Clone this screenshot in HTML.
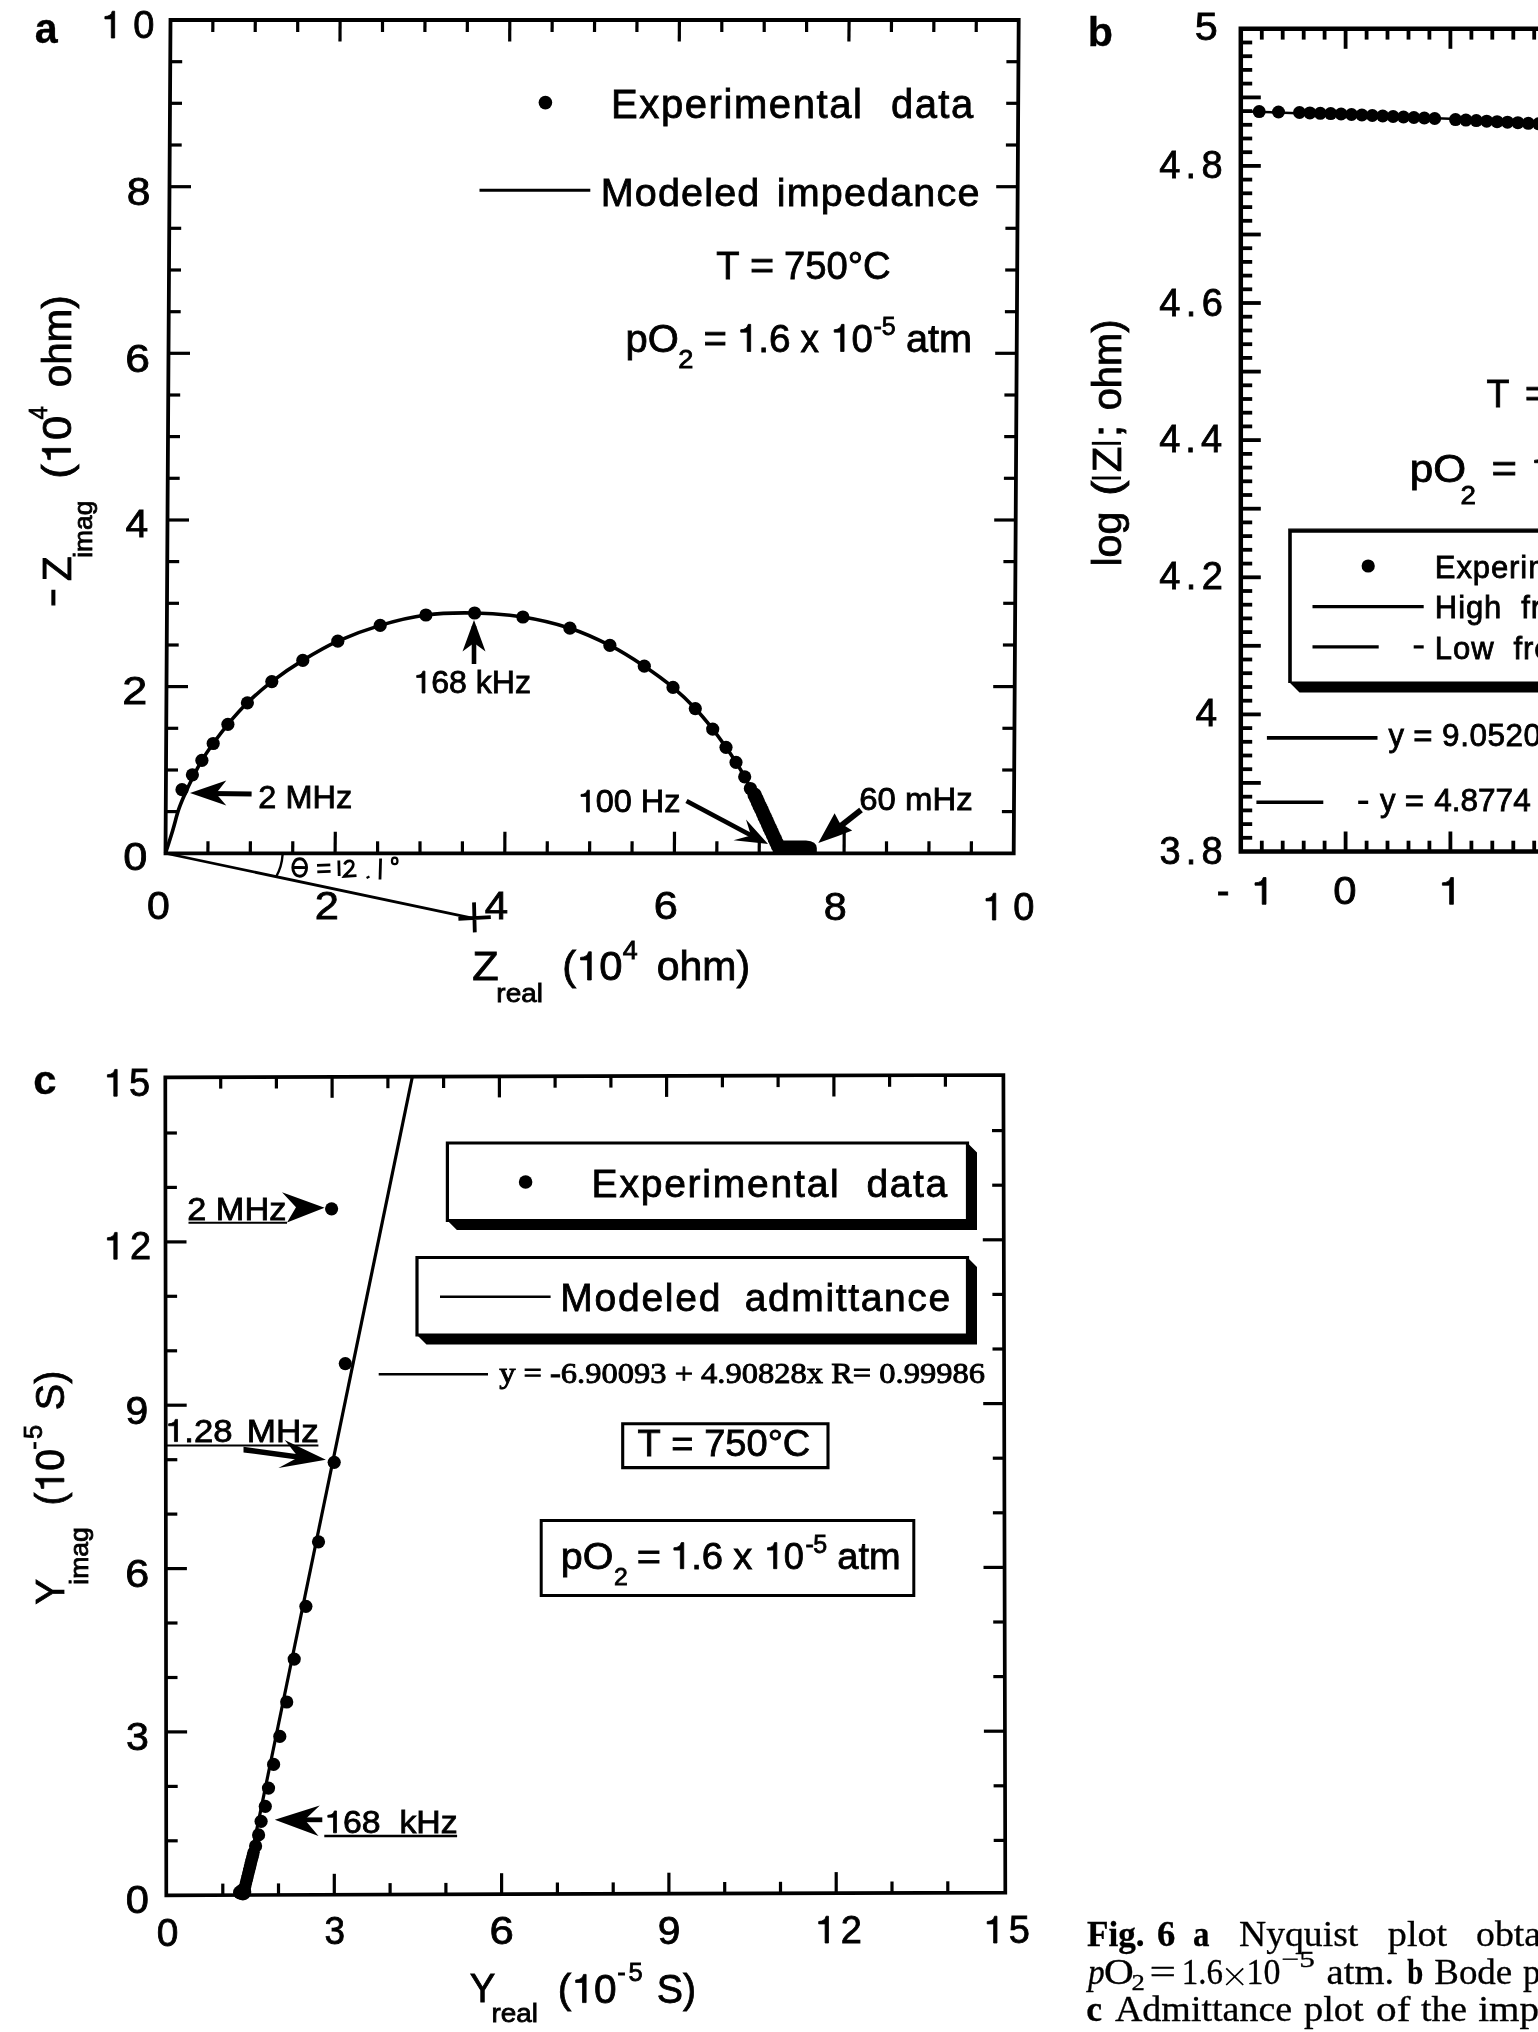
<!DOCTYPE html>
<html><head><meta charset="utf-8"><title>Fig. 6</title>
<style>
html,body{margin:0;padding:0;background:#fff;}
body{width:1538px;height:2032px;overflow:hidden;}
svg{display:block;font-family:"Liberation Sans",sans-serif;will-change:transform;}
svg text{fill:#000;stroke:#000;stroke-width:0.8px;font-kerning:none;white-space:pre;}
svg line,svg path{stroke:#000;fill:none;}
svg circle{fill:#000;stroke:none;}
</style></head><body>
<svg width="1538" height="2032" viewBox="0 0 1538 2032">
<rect x="0" y="0" width="1538" height="2032" fill="#fff" stroke="none"/>
<!-- panel a -->
<path d="M170.5 20.0 L1018.7 20.0 L1013.7 853.3 L165.5 853.3 Z" stroke-width="3.8" stroke-linejoin="miter"/>
<line x1="207.9" y1="853.3" x2="208.0" y2="841.3" stroke-width="3.2"/>
<line x1="212.9" y1="20.0" x2="212.8" y2="32.0" stroke-width="3.2"/>
<line x1="165.7" y1="811.6" x2="177.7" y2="811.6" stroke-width="3.2"/>
<line x1="1013.9" y1="811.6" x2="1001.9" y2="811.6" stroke-width="3.2"/>
<line x1="250.3" y1="853.3" x2="250.4" y2="841.3" stroke-width="3.2"/>
<line x1="255.3" y1="20.0" x2="255.2" y2="32.0" stroke-width="3.2"/>
<line x1="166.0" y1="770.0" x2="178.0" y2="770.0" stroke-width="3.2"/>
<line x1="1014.2" y1="770.0" x2="1002.2" y2="770.0" stroke-width="3.2"/>
<line x1="292.7" y1="853.3" x2="292.8" y2="841.3" stroke-width="3.2"/>
<line x1="297.7" y1="20.0" x2="297.7" y2="32.0" stroke-width="3.2"/>
<line x1="166.2" y1="728.3" x2="178.2" y2="728.3" stroke-width="3.2"/>
<line x1="1014.4" y1="728.3" x2="1002.4" y2="728.3" stroke-width="3.2"/>
<line x1="335.1" y1="853.3" x2="335.3" y2="831.8" stroke-width="3.2"/>
<line x1="340.1" y1="20.0" x2="340.0" y2="41.5" stroke-width="3.2"/>
<line x1="166.5" y1="686.6" x2="188.0" y2="686.6" stroke-width="3.2"/>
<line x1="1014.7" y1="686.6" x2="993.2" y2="686.6" stroke-width="3.2"/>
<line x1="377.6" y1="853.3" x2="377.6" y2="841.3" stroke-width="3.2"/>
<line x1="382.5" y1="20.0" x2="382.5" y2="32.0" stroke-width="3.2"/>
<line x1="166.7" y1="645.0" x2="178.7" y2="645.0" stroke-width="3.2"/>
<line x1="1014.9" y1="645.0" x2="1002.9" y2="645.0" stroke-width="3.2"/>
<line x1="420.0" y1="853.3" x2="420.0" y2="841.3" stroke-width="3.2"/>
<line x1="425.0" y1="20.0" x2="424.9" y2="32.0" stroke-width="3.2"/>
<line x1="167.0" y1="603.3" x2="179.0" y2="603.3" stroke-width="3.2"/>
<line x1="1015.2" y1="603.3" x2="1003.2" y2="603.3" stroke-width="3.2"/>
<line x1="462.4" y1="853.3" x2="462.4" y2="841.3" stroke-width="3.2"/>
<line x1="467.4" y1="20.0" x2="467.3" y2="32.0" stroke-width="3.2"/>
<line x1="167.2" y1="561.6" x2="179.2" y2="561.6" stroke-width="3.2"/>
<line x1="1015.4" y1="561.6" x2="1003.4" y2="561.6" stroke-width="3.2"/>
<line x1="504.8" y1="853.3" x2="504.9" y2="831.8" stroke-width="3.2"/>
<line x1="509.8" y1="20.0" x2="509.7" y2="41.5" stroke-width="3.2"/>
<line x1="167.5" y1="520.0" x2="189.0" y2="520.0" stroke-width="3.2"/>
<line x1="1015.7" y1="520.0" x2="994.2" y2="520.0" stroke-width="3.2"/>
<line x1="547.2" y1="853.3" x2="547.3" y2="841.3" stroke-width="3.2"/>
<line x1="552.2" y1="20.0" x2="552.1" y2="32.0" stroke-width="3.2"/>
<line x1="167.7" y1="478.3" x2="179.7" y2="478.3" stroke-width="3.2"/>
<line x1="1015.9" y1="478.3" x2="1003.9" y2="478.3" stroke-width="3.2"/>
<line x1="589.6" y1="853.3" x2="589.7" y2="841.3" stroke-width="3.2"/>
<line x1="594.6" y1="20.0" x2="594.5" y2="32.0" stroke-width="3.2"/>
<line x1="168.0" y1="436.6" x2="180.0" y2="436.6" stroke-width="3.2"/>
<line x1="1016.2" y1="436.6" x2="1004.2" y2="436.6" stroke-width="3.2"/>
<line x1="632.0" y1="853.3" x2="632.1" y2="841.3" stroke-width="3.2"/>
<line x1="637.0" y1="20.0" x2="636.9" y2="32.0" stroke-width="3.2"/>
<line x1="168.2" y1="395.0" x2="180.2" y2="395.0" stroke-width="3.2"/>
<line x1="1016.4" y1="395.0" x2="1004.4" y2="395.0" stroke-width="3.2"/>
<line x1="674.4" y1="853.3" x2="674.5" y2="831.8" stroke-width="3.2"/>
<line x1="679.4" y1="20.0" x2="679.3" y2="41.5" stroke-width="3.2"/>
<line x1="168.5" y1="353.3" x2="190.0" y2="353.3" stroke-width="3.2"/>
<line x1="1016.7" y1="353.3" x2="995.2" y2="353.3" stroke-width="3.2"/>
<line x1="716.8" y1="853.3" x2="716.9" y2="841.3" stroke-width="3.2"/>
<line x1="721.8" y1="20.0" x2="721.8" y2="32.0" stroke-width="3.2"/>
<line x1="168.7" y1="311.7" x2="180.7" y2="311.7" stroke-width="3.2"/>
<line x1="1016.9" y1="311.7" x2="1004.9" y2="311.7" stroke-width="3.2"/>
<line x1="759.2" y1="853.3" x2="759.3" y2="841.3" stroke-width="3.2"/>
<line x1="764.2" y1="20.0" x2="764.2" y2="32.0" stroke-width="3.2"/>
<line x1="169.0" y1="270.0" x2="181.0" y2="270.0" stroke-width="3.2"/>
<line x1="1017.2" y1="270.0" x2="1005.2" y2="270.0" stroke-width="3.2"/>
<line x1="801.6" y1="853.3" x2="801.7" y2="841.3" stroke-width="3.2"/>
<line x1="806.6" y1="20.0" x2="806.6" y2="32.0" stroke-width="3.2"/>
<line x1="169.2" y1="228.3" x2="181.2" y2="228.3" stroke-width="3.2"/>
<line x1="1017.4" y1="228.3" x2="1005.4" y2="228.3" stroke-width="3.2"/>
<line x1="844.1" y1="853.3" x2="844.2" y2="831.8" stroke-width="3.2"/>
<line x1="849.1" y1="20.0" x2="848.9" y2="41.5" stroke-width="3.2"/>
<line x1="169.5" y1="186.7" x2="191.0" y2="186.7" stroke-width="3.2"/>
<line x1="1017.7" y1="186.7" x2="996.2" y2="186.7" stroke-width="3.2"/>
<line x1="886.5" y1="853.3" x2="886.5" y2="841.3" stroke-width="3.2"/>
<line x1="891.5" y1="20.0" x2="891.4" y2="32.0" stroke-width="3.2"/>
<line x1="169.7" y1="145.0" x2="181.7" y2="145.0" stroke-width="3.2"/>
<line x1="1017.9" y1="145.0" x2="1005.9" y2="145.0" stroke-width="3.2"/>
<line x1="928.9" y1="853.3" x2="929.0" y2="841.3" stroke-width="3.2"/>
<line x1="933.9" y1="20.0" x2="933.8" y2="32.0" stroke-width="3.2"/>
<line x1="170.0" y1="103.3" x2="182.0" y2="103.3" stroke-width="3.2"/>
<line x1="1018.2" y1="103.3" x2="1006.2" y2="103.3" stroke-width="3.2"/>
<line x1="971.3" y1="853.3" x2="971.4" y2="841.3" stroke-width="3.2"/>
<line x1="976.3" y1="20.0" x2="976.2" y2="32.0" stroke-width="3.2"/>
<line x1="170.2" y1="61.7" x2="182.2" y2="61.7" stroke-width="3.2"/>
<line x1="1018.4" y1="61.7" x2="1006.4" y2="61.7" stroke-width="3.2"/>
<path d="M114.67 38.00 L111.31 38.00 L111.31 18.92 L104.90 18.92 L104.90 16.54 Q108.26 16.39 109.94 15.10 Q111.61 13.82 112.26 11.21 L114.67 11.21 Z" style="fill:#000;stroke:#000;stroke-width:0.8"/>
<text x="133.15" y="38.0" font-size="38" letter-spacing="11.11" xml:space="preserve">0</text>
<text x="126.75" y="205.0" font-size="38" textLength="23.70" lengthAdjust="spacingAndGlyphs" xml:space="preserve">8</text>
<text x="125.24" y="371.6" font-size="38" textLength="24.71" lengthAdjust="spacingAndGlyphs" xml:space="preserve">6</text>
<text x="125.56" y="537.0" font-size="38" textLength="22.74" lengthAdjust="spacingAndGlyphs" xml:space="preserve">4</text>
<text x="122.24" y="704.0" font-size="38" textLength="25.03" lengthAdjust="spacingAndGlyphs" xml:space="preserve">2</text>
<text x="123.31" y="869.6" font-size="38" textLength="24.08" lengthAdjust="spacingAndGlyphs" xml:space="preserve">0</text>
<text x="147.00" y="918.8" font-size="38" textLength="22.80" lengthAdjust="spacingAndGlyphs" xml:space="preserve">0</text>
<text x="314.81" y="918.8" font-size="38" textLength="24.17" lengthAdjust="spacingAndGlyphs" xml:space="preserve">2</text>
<text x="484.83" y="918.8" font-size="38" textLength="23.40" lengthAdjust="spacingAndGlyphs" xml:space="preserve">4</text>
<text x="653.80" y="919.0" font-size="38" textLength="24.11" lengthAdjust="spacingAndGlyphs" xml:space="preserve">6</text>
<text x="823.80" y="919.5" font-size="38" textLength="22.99" lengthAdjust="spacingAndGlyphs" xml:space="preserve">8</text>
<path d="M995.77 920.00 L992.41 920.00 L992.41 900.92 L986.00 900.92 L986.00 898.54 Q989.36 898.39 991.04 897.10 Q992.71 895.82 993.36 893.21 L995.77 893.21 Z" style="fill:#000;stroke:#000;stroke-width:0.8"/>
<text x="1013.35" y="920.0" font-size="38" letter-spacing="10.21" xml:space="preserve">0</text>
<text x="34.79" y="42.5" font-size="42" font-weight="bold" style="stroke-width:0.3px" textLength="22.95" lengthAdjust="spacingAndGlyphs" xml:space="preserve">a</text>
<circle cx="545.4" cy="102.6" r="6.8"/>
<text x="611.02" y="117.7" font-size="40" letter-spacing="1.59" xml:space="preserve">Experimental</text>
<text x="890.92" y="117.7" font-size="40" letter-spacing="1.48" xml:space="preserve">data</text>
<line x1="479.5" y1="190.3" x2="590.3" y2="190.3" stroke-width="3"/>
<text x="600.66" y="206.2" font-size="39.5" letter-spacing="1.19" xml:space="preserve">Modeled</text>
<text x="776.86" y="206.2" font-size="39.5" letter-spacing="1.16" xml:space="preserve">impedance</text>
<text x="716.14" y="278.6" font-size="38.5" textLength="23.33" lengthAdjust="spacingAndGlyphs" xml:space="preserve">T</text>
<text x="750.08" y="278.6" font-size="38.5" textLength="24.16" lengthAdjust="spacingAndGlyphs" xml:space="preserve">=</text>
<text x="784.04" y="278.6" font-size="38.5" textLength="106.61" lengthAdjust="spacingAndGlyphs" xml:space="preserve">750°C</text>
<text x="625.63" y="351.5" font-size="38.5" textLength="53.29" lengthAdjust="spacingAndGlyphs" xml:space="preserve">pO</text>
<text x="678.23" y="368.3" font-size="25.5" textLength="15.14" lengthAdjust="spacingAndGlyphs" xml:space="preserve">2</text>
<text x="703.64" y="351.5" font-size="38.5" textLength="23.44" lengthAdjust="spacingAndGlyphs" xml:space="preserve">=</text>
<path d="M750.66 351.50 L747.24 351.50 L747.24 332.17 L740.70 332.17 L740.70 329.76 Q744.12 329.60 745.84 328.30 Q747.55 327.00 748.21 324.36 L750.66 324.36 Z" style="fill:#000;stroke:#000;stroke-width:0.8"/>
<text x="758.18" y="351.5" font-size="38.5" textLength="32.32" lengthAdjust="spacingAndGlyphs" xml:space="preserve">.6</text>
<text x="800.59" y="351.5" font-size="38.5" textLength="18.41" lengthAdjust="spacingAndGlyphs" xml:space="preserve">x</text>
<path d="M844.05 351.50 L840.66 351.50 L840.66 332.17 L834.20 332.17 L834.20 329.76 Q837.59 329.60 839.28 328.30 Q840.97 327.00 841.62 324.36 L844.05 324.36 Z" style="fill:#000;stroke:#000;stroke-width:0.8"/>
<text x="851.49" y="351.5" font-size="38.5" textLength="21.31" lengthAdjust="spacingAndGlyphs" xml:space="preserve">0</text>
<text x="873.39" y="335.4" font-size="25" letter-spacing="0.13" xml:space="preserve">-5</text>
<text x="906.02" y="351.5" font-size="38.5" textLength="66.10" lengthAdjust="spacingAndGlyphs" xml:space="preserve">atm</text>
<text x="472.33" y="980.0" font-size="40" textLength="26.42" lengthAdjust="spacingAndGlyphs" xml:space="preserve">Z</text>
<text x="496.35" y="1001.8" font-size="25.5" textLength="46.52" lengthAdjust="spacingAndGlyphs" xml:space="preserve">real</text>
<text x="562.21" y="980.0" font-size="40" textLength="13.92" lengthAdjust="spacingAndGlyphs" xml:space="preserve">(</text>
<path d="M591.26 980.00 L587.57 980.00 L587.57 959.91 L580.52 959.91 L580.52 957.41 Q584.21 957.25 586.06 955.90 Q587.91 954.54 588.62 951.80 L591.26 951.80 Z" style="fill:#000;stroke:#000;stroke-width:0.8"/>
<text x="599.38" y="980.0" font-size="40" textLength="23.25" lengthAdjust="spacingAndGlyphs" xml:space="preserve">0</text>
<text x="622.89" y="958.6" font-size="25.5" textLength="14.90" lengthAdjust="spacingAndGlyphs" xml:space="preserve">4</text>
<text x="656.78" y="980.0" font-size="40" textLength="93.36" lengthAdjust="spacingAndGlyphs" xml:space="preserve">ohm)</text>
<g transform="translate(64.0 605.0) rotate(-90)">
<text x="-2.64" y="0.0" font-size="40" textLength="19.78" lengthAdjust="spacingAndGlyphs" xml:space="preserve">-</text>
</g>
<g transform="translate(70.5 580.0) rotate(-90)">
<text x="-1.30" y="0.0" font-size="40" textLength="24.98" lengthAdjust="spacingAndGlyphs" xml:space="preserve">Z</text>
</g>
<g transform="translate(92.0 556.0) rotate(-90)">
<text x="-1.76" y="0.0" font-size="25.5" textLength="57.06" lengthAdjust="spacingAndGlyphs" xml:space="preserve">imag</text>
</g>
<g transform="translate(70.5 476.0) rotate(-90)">
<text x="-2.70" y="0.0" font-size="40" textLength="14.52" lengthAdjust="spacingAndGlyphs" xml:space="preserve">(</text>
<path d="M27.59 0.00 L23.74 0.00 L23.74 -20.09 L16.39 -20.09 L16.39 -22.59 Q20.24 -22.75 22.17 -24.10 Q24.09 -25.46 24.84 -28.20 L27.59 -28.20 Z" style="fill:#000;stroke:#000;stroke-width:0.8"/>
<text x="36.06" y="0.0" font-size="40" textLength="24.24" lengthAdjust="spacingAndGlyphs" xml:space="preserve">0</text>
</g>
<g transform="translate(46.5 419.0) rotate(-90)">
<text x="-0.55" y="0.0" font-size="25.5" textLength="13.24" lengthAdjust="spacingAndGlyphs" xml:space="preserve">4</text>
</g>
<g transform="translate(70.5 385.6) rotate(-90)">
<text x="-1.70" y="0.0" font-size="40" textLength="92.00" lengthAdjust="spacingAndGlyphs" xml:space="preserve">ohm)</text>
</g>
<path d="M165.5 853.3 C166.7 849.5 170.5 837.7 172.7 830.4 C174.9 823.1 176.5 815.9 178.6 809.7 C180.7 803.5 182.9 798.7 185.3 793.2 C187.7 787.8 190.2 782.5 193.0 777.0 C195.8 771.5 198.5 765.9 201.9 760.3 C205.3 754.7 208.9 749.5 213.2 743.5 C217.5 737.5 222.2 731.1 227.9 724.3 C233.6 717.5 240.1 709.9 247.4 702.8 C254.7 695.7 262.6 688.7 271.8 681.6 C281.0 674.5 291.8 667.1 302.8 660.4 C313.8 653.7 324.9 647.0 337.8 641.2 C350.7 635.4 365.5 629.8 380.2 625.4 C394.9 621.0 410.2 617.1 425.9 615.0 C441.6 612.9 458.4 612.7 474.6 613.0 C490.8 613.3 507.0 614.5 522.9 617.0 C538.8 619.5 555.4 623.5 569.9 628.2 C584.4 632.9 597.5 639.1 609.9 645.4 C622.3 651.7 633.8 659.2 644.3 666.2 C654.8 673.2 664.5 680.3 673.0 687.4 C681.5 694.5 688.7 701.6 695.3 708.6 C701.9 715.6 707.6 722.7 712.7 729.1 C717.8 735.5 722.1 741.8 726.0 747.3 C729.9 752.8 732.9 757.4 736.0 762.3 C739.1 767.2 742.3 772.4 744.7 776.8 C747.1 781.2 748.5 784.6 750.4 788.5 C752.3 792.4 753.4 794.4 756.0 800.0 C758.6 805.6 762.5 814.3 766.0 822.0 C769.5 829.7 775.2 842.0 777.0 846.0" stroke-width="3.6"/>
<circle cx="182.0" cy="789.7" r="6.6"/>
<circle cx="192.4" cy="774.8" r="6.6"/>
<circle cx="201.9" cy="760.3" r="6.6"/>
<circle cx="213.2" cy="743.5" r="6.6"/>
<circle cx="227.9" cy="724.3" r="6.6"/>
<circle cx="247.4" cy="702.8" r="6.6"/>
<circle cx="271.8" cy="681.6" r="6.6"/>
<circle cx="302.8" cy="660.4" r="6.6"/>
<circle cx="337.8" cy="641.2" r="6.6"/>
<circle cx="380.2" cy="625.4" r="6.6"/>
<circle cx="425.9" cy="615.0" r="6.6"/>
<circle cx="474.6" cy="613.0" r="6.6"/>
<circle cx="522.9" cy="617.0" r="6.6"/>
<circle cx="569.9" cy="628.2" r="6.6"/>
<circle cx="609.9" cy="645.4" r="6.6"/>
<circle cx="644.3" cy="666.2" r="6.6"/>
<circle cx="673.0" cy="687.4" r="6.6"/>
<circle cx="695.3" cy="708.6" r="6.6"/>
<circle cx="712.7" cy="729.1" r="6.6"/>
<circle cx="726.0" cy="747.3" r="6.6"/>
<circle cx="736.0" cy="762.3" r="6.6"/>
<circle cx="744.7" cy="776.8" r="6.6"/>
<circle cx="750.4" cy="788.5" r="6.6"/>
<circle cx="754.6" cy="794.8" r="7.2"/>
<circle cx="756.3" cy="798.5" r="7.2"/>
<circle cx="757.9" cy="802.1" r="7.2"/>
<circle cx="759.6" cy="805.8" r="7.2"/>
<circle cx="761.3" cy="809.4" r="7.2"/>
<circle cx="763.0" cy="813.1" r="7.2"/>
<circle cx="764.6" cy="816.7" r="7.2"/>
<circle cx="766.3" cy="820.4" r="7.2"/>
<circle cx="768.0" cy="824.1" r="7.2"/>
<circle cx="769.6" cy="827.7" r="7.2"/>
<circle cx="771.3" cy="831.4" r="7.2"/>
<circle cx="773.0" cy="835.0" r="7.2"/>
<circle cx="774.7" cy="838.7" r="7.2"/>
<circle cx="776.3" cy="842.3" r="7.2"/>
<circle cx="778.0" cy="846.0" r="7.2"/>
<path d="M778 840.6 L806 840.6 Q816.8 841.5 816.8 848 L816.8 853.3 L772 853.3 Z" style="fill:#000;stroke:none"/>
<path d="M424.95 693.00 L422.11 693.00 L422.11 677.43 L416.70 677.43 L416.70 675.49 Q419.54 675.37 420.95 674.32 Q422.37 673.27 422.92 671.14 L424.95 671.14 Z" style="fill:#000;stroke:#000;stroke-width:0.8"/>
<text x="431.18" y="693.0" font-size="31" textLength="99.92" lengthAdjust="spacingAndGlyphs" xml:space="preserve">68 kHz</text>
<path d="M474 664 L474 626" stroke-width="4.6"/>
<path d="M474 620 L485.5 651.5 L474 643 L462.5 651.5 Z" style="fill:#000;stroke:none"/>
<text x="258.37" y="807.7" font-size="30.5" textLength="93.75" lengthAdjust="spacingAndGlyphs" xml:space="preserve">2 MHz</text>
<path d="M251.6 794 L212 793.4" stroke-width="5"/>
<path d="M190 792.9 L226.3 780.6 L216 793.4 L226.3 805.6 Z" style="fill:#000;stroke:none"/>
<path d="M589.36 812.00 L586.48 812.00 L586.48 796.43 L581.00 796.43 L581.00 794.49 Q583.87 794.37 585.31 793.32 Q586.75 792.27 587.30 790.14 L589.36 790.14 Z" style="fill:#000;stroke:#000;stroke-width:0.8"/>
<text x="595.67" y="812.0" font-size="31" textLength="84.95" lengthAdjust="spacingAndGlyphs" xml:space="preserve">00 Hz</text>
<path d="M686.5 801 L757 838.5" stroke-width="4.8"/>
<path d="M768 844 L733.5 840.3 L751 835.5 L746 819.5 Z" style="fill:#000;stroke:none"/>
<text x="859.33" y="809.5" font-size="31" textLength="113.31" lengthAdjust="spacingAndGlyphs" xml:space="preserve">60 mHz</text>
<path d="M861 810 L840 826.5" stroke-width="6"/>
<path d="M818.3 843 L834.6 813.2 L839.5 822.5 L852.2 830.6 L838 836 Z" style="fill:#000;stroke:none"/>
<path d="M165.5 853.3 L474.6 918.6" stroke-width="2.7"/>
<path d="M458.4 918.9 L490.8 917.2 M474 902.4 L474.8 932.4" stroke-width="3.8"/>
<path d="M282.6 854.5 Q281.8 867 276 877" stroke-width="2.4"/>
<path d="M299.8 858.8 C290.5 858.8 290.5 876.2 299.8 876.2 C309 876.2 308.6 858.8 299.8 858.8 Z M292 867.2 L307.8 867.6" stroke-width="2.9"/>
<path d="M317 865.3 L330.3 864.8 M317.3 871.9 L330.6 871.3" stroke-width="2.7"/>
<path d="M338.8 860.5 L339.2 876" stroke-width="2.8"/>
<path d="M344.5 864.5 C346.5 859 355 860 353 866 C351.8 870 347 872.5 344.2 876.4 L356.5 875.6" stroke-width="2.7"/>
<path d="M367.5 876.2 L368.5 878.2" stroke-width="3.2"/>
<path d="M380.6 858.5 L380 879.5" stroke-width="2.8"/>
<path d="M394.7 857.6 C391 857.6 391 864.2 394.7 864.2 C398.4 864.2 398.4 857.6 394.7 857.6 Z" stroke-width="2.2"/>
<!-- panel b -->
<path d="M1560 28.8 L1240.8 28.8 L1240.8 851.5 L1560 851.5" stroke-width="4.5" stroke-linejoin="miter"/>
<line x1="1261.8" y1="28.8" x2="1261.8" y2="39.6" stroke-width="3.8"/>
<line x1="1261.8" y1="851.5" x2="1261.8" y2="840.7" stroke-width="3.8"/>
<line x1="1282.7" y1="28.8" x2="1282.7" y2="39.6" stroke-width="3.8"/>
<line x1="1282.7" y1="851.5" x2="1282.7" y2="840.7" stroke-width="3.8"/>
<line x1="1303.7" y1="28.8" x2="1303.7" y2="39.6" stroke-width="3.8"/>
<line x1="1303.7" y1="851.5" x2="1303.7" y2="840.7" stroke-width="3.8"/>
<line x1="1324.6" y1="28.8" x2="1324.6" y2="39.6" stroke-width="3.8"/>
<line x1="1324.6" y1="851.5" x2="1324.6" y2="840.7" stroke-width="3.8"/>
<line x1="1345.6" y1="28.8" x2="1345.6" y2="48.8" stroke-width="3.8"/>
<line x1="1345.6" y1="851.5" x2="1345.6" y2="831.5" stroke-width="3.8"/>
<line x1="1366.6" y1="28.8" x2="1366.6" y2="39.6" stroke-width="3.8"/>
<line x1="1366.6" y1="851.5" x2="1366.6" y2="840.7" stroke-width="3.8"/>
<line x1="1387.5" y1="28.8" x2="1387.5" y2="39.6" stroke-width="3.8"/>
<line x1="1387.5" y1="851.5" x2="1387.5" y2="840.7" stroke-width="3.8"/>
<line x1="1408.5" y1="28.8" x2="1408.5" y2="39.6" stroke-width="3.8"/>
<line x1="1408.5" y1="851.5" x2="1408.5" y2="840.7" stroke-width="3.8"/>
<line x1="1429.4" y1="28.8" x2="1429.4" y2="39.6" stroke-width="3.8"/>
<line x1="1429.4" y1="851.5" x2="1429.4" y2="840.7" stroke-width="3.8"/>
<line x1="1450.4" y1="28.8" x2="1450.4" y2="48.8" stroke-width="3.8"/>
<line x1="1450.4" y1="851.5" x2="1450.4" y2="831.5" stroke-width="3.8"/>
<line x1="1471.4" y1="28.8" x2="1471.4" y2="39.6" stroke-width="3.8"/>
<line x1="1471.4" y1="851.5" x2="1471.4" y2="840.7" stroke-width="3.8"/>
<line x1="1492.3" y1="28.8" x2="1492.3" y2="39.6" stroke-width="3.8"/>
<line x1="1492.3" y1="851.5" x2="1492.3" y2="840.7" stroke-width="3.8"/>
<line x1="1513.3" y1="28.8" x2="1513.3" y2="39.6" stroke-width="3.8"/>
<line x1="1513.3" y1="851.5" x2="1513.3" y2="840.7" stroke-width="3.8"/>
<line x1="1534.2" y1="28.8" x2="1534.2" y2="39.6" stroke-width="3.8"/>
<line x1="1534.2" y1="851.5" x2="1534.2" y2="840.7" stroke-width="3.8"/>
<line x1="1555.2" y1="28.8" x2="1555.2" y2="48.8" stroke-width="3.8"/>
<line x1="1555.2" y1="851.5" x2="1555.2" y2="831.5" stroke-width="3.8"/>
<line x1="1240.8" y1="42.5" x2="1252.2" y2="42.5" stroke-width="3.8"/>
<line x1="1240.8" y1="56.2" x2="1252.2" y2="56.2" stroke-width="3.8"/>
<line x1="1240.8" y1="69.9" x2="1252.2" y2="69.9" stroke-width="3.8"/>
<line x1="1240.8" y1="83.6" x2="1252.2" y2="83.6" stroke-width="3.8"/>
<line x1="1240.8" y1="97.4" x2="1260.8" y2="97.4" stroke-width="3.8"/>
<line x1="1240.8" y1="111.1" x2="1252.2" y2="111.1" stroke-width="3.8"/>
<line x1="1240.8" y1="124.8" x2="1252.2" y2="124.8" stroke-width="3.8"/>
<line x1="1240.8" y1="138.5" x2="1252.2" y2="138.5" stroke-width="3.8"/>
<line x1="1240.8" y1="152.2" x2="1252.2" y2="152.2" stroke-width="3.8"/>
<line x1="1240.8" y1="165.9" x2="1260.8" y2="165.9" stroke-width="3.8"/>
<line x1="1240.8" y1="179.6" x2="1252.2" y2="179.6" stroke-width="3.8"/>
<line x1="1240.8" y1="193.3" x2="1252.2" y2="193.3" stroke-width="3.8"/>
<line x1="1240.8" y1="207.1" x2="1252.2" y2="207.1" stroke-width="3.8"/>
<line x1="1240.8" y1="220.8" x2="1252.2" y2="220.8" stroke-width="3.8"/>
<line x1="1240.8" y1="234.5" x2="1260.8" y2="234.5" stroke-width="3.8"/>
<line x1="1240.8" y1="248.2" x2="1252.2" y2="248.2" stroke-width="3.8"/>
<line x1="1240.8" y1="261.9" x2="1252.2" y2="261.9" stroke-width="3.8"/>
<line x1="1240.8" y1="275.6" x2="1252.2" y2="275.6" stroke-width="3.8"/>
<line x1="1240.8" y1="289.3" x2="1252.2" y2="289.3" stroke-width="3.8"/>
<line x1="1240.8" y1="303.0" x2="1260.8" y2="303.0" stroke-width="3.8"/>
<line x1="1240.8" y1="316.7" x2="1252.2" y2="316.7" stroke-width="3.8"/>
<line x1="1240.8" y1="330.5" x2="1252.2" y2="330.5" stroke-width="3.8"/>
<line x1="1240.8" y1="344.2" x2="1252.2" y2="344.2" stroke-width="3.8"/>
<line x1="1240.8" y1="357.9" x2="1252.2" y2="357.9" stroke-width="3.8"/>
<line x1="1240.8" y1="371.6" x2="1260.8" y2="371.6" stroke-width="3.8"/>
<line x1="1240.8" y1="385.3" x2="1252.2" y2="385.3" stroke-width="3.8"/>
<line x1="1240.8" y1="399.0" x2="1252.2" y2="399.0" stroke-width="3.8"/>
<line x1="1240.8" y1="412.7" x2="1252.2" y2="412.7" stroke-width="3.8"/>
<line x1="1240.8" y1="426.4" x2="1252.2" y2="426.4" stroke-width="3.8"/>
<line x1="1240.8" y1="440.1" x2="1260.8" y2="440.1" stroke-width="3.8"/>
<line x1="1240.8" y1="453.9" x2="1252.2" y2="453.9" stroke-width="3.8"/>
<line x1="1240.8" y1="467.6" x2="1252.2" y2="467.6" stroke-width="3.8"/>
<line x1="1240.8" y1="481.3" x2="1252.2" y2="481.3" stroke-width="3.8"/>
<line x1="1240.8" y1="495.0" x2="1252.2" y2="495.0" stroke-width="3.8"/>
<line x1="1240.8" y1="508.7" x2="1260.8" y2="508.7" stroke-width="3.8"/>
<line x1="1240.8" y1="522.4" x2="1252.2" y2="522.4" stroke-width="3.8"/>
<line x1="1240.8" y1="536.1" x2="1252.2" y2="536.1" stroke-width="3.8"/>
<line x1="1240.8" y1="549.8" x2="1252.2" y2="549.8" stroke-width="3.8"/>
<line x1="1240.8" y1="563.6" x2="1252.2" y2="563.6" stroke-width="3.8"/>
<line x1="1240.8" y1="577.3" x2="1260.8" y2="577.3" stroke-width="3.8"/>
<line x1="1240.8" y1="591.0" x2="1252.2" y2="591.0" stroke-width="3.8"/>
<line x1="1240.8" y1="604.7" x2="1252.2" y2="604.7" stroke-width="3.8"/>
<line x1="1240.8" y1="618.4" x2="1252.2" y2="618.4" stroke-width="3.8"/>
<line x1="1240.8" y1="632.1" x2="1252.2" y2="632.1" stroke-width="3.8"/>
<line x1="1240.8" y1="645.8" x2="1260.8" y2="645.8" stroke-width="3.8"/>
<line x1="1240.8" y1="659.5" x2="1252.2" y2="659.5" stroke-width="3.8"/>
<line x1="1240.8" y1="673.2" x2="1252.2" y2="673.2" stroke-width="3.8"/>
<line x1="1240.8" y1="687.0" x2="1252.2" y2="687.0" stroke-width="3.8"/>
<line x1="1240.8" y1="700.7" x2="1252.2" y2="700.7" stroke-width="3.8"/>
<line x1="1240.8" y1="714.4" x2="1260.8" y2="714.4" stroke-width="3.8"/>
<line x1="1240.8" y1="728.1" x2="1252.2" y2="728.1" stroke-width="3.8"/>
<line x1="1240.8" y1="741.8" x2="1252.2" y2="741.8" stroke-width="3.8"/>
<line x1="1240.8" y1="755.5" x2="1252.2" y2="755.5" stroke-width="3.8"/>
<line x1="1240.8" y1="769.2" x2="1252.2" y2="769.2" stroke-width="3.8"/>
<line x1="1240.8" y1="782.9" x2="1260.8" y2="782.9" stroke-width="3.8"/>
<line x1="1240.8" y1="796.7" x2="1252.2" y2="796.7" stroke-width="3.8"/>
<line x1="1240.8" y1="810.4" x2="1252.2" y2="810.4" stroke-width="3.8"/>
<line x1="1240.8" y1="824.1" x2="1252.2" y2="824.1" stroke-width="3.8"/>
<line x1="1240.8" y1="837.8" x2="1252.2" y2="837.8" stroke-width="3.8"/>
<text x="1194.74" y="40.0" font-size="38" textLength="22.99" lengthAdjust="spacingAndGlyphs" xml:space="preserve">5</text>
<text x="1159.13" y="177.8" font-size="38" letter-spacing="5.35" xml:space="preserve">4.8</text>
<text x="1159.13" y="315.5" font-size="38" letter-spacing="5.51" xml:space="preserve">4.6</text>
<text x="1159.13" y="452.4" font-size="38" letter-spacing="5.08" xml:space="preserve">4.4</text>
<text x="1159.13" y="588.6" font-size="38" letter-spacing="5.48" xml:space="preserve">4.2</text>
<text x="1195.51" y="726.0" font-size="38" textLength="21.63" lengthAdjust="spacingAndGlyphs" xml:space="preserve">4</text>
<text x="1159.55" y="863.6" font-size="38" letter-spacing="5.14" xml:space="preserve">3.8</text>
<text x="1216.71" y="904.3" font-size="38" textLength="12.69" lengthAdjust="spacingAndGlyphs" xml:space="preserve">-</text>
<path d="M1266.00 904.30 L1262.22 904.30 L1262.22 885.22 L1255.00 885.22 L1255.00 882.84 Q1258.78 882.69 1260.67 881.40 Q1262.56 880.12 1263.29 877.51 L1266.00 877.51 Z" style="fill:#000;stroke:#000;stroke-width:0.8"/>
<text x="1333.37" y="904.3" font-size="38" textLength="23.27" lengthAdjust="spacingAndGlyphs" xml:space="preserve">0</text>
<path d="M1453.40 904.30 L1449.62 904.30 L1449.62 885.22 L1442.40 885.22 L1442.40 882.84 Q1446.18 882.69 1448.07 881.40 Q1449.96 880.12 1450.69 877.51 L1453.40 877.51 Z" style="fill:#000;stroke:#000;stroke-width:0.8"/>
<text x="1087.78" y="46.4" font-size="41" font-weight="bold" style="stroke-width:0.3px" textLength="25.21" lengthAdjust="spacingAndGlyphs" xml:space="preserve">b</text>
<line x1="1240.8" y1="111.2" x2="1560.0" y2="122.7" stroke-width="2.6"/>
<circle cx="1259.2" cy="111.6" r="6.5"/>
<circle cx="1278.5" cy="112.0" r="6.5"/>
<circle cx="1299.5" cy="112.5" r="6.5"/>
<circle cx="1309.9" cy="112.9" r="6.5"/>
<circle cx="1320.3" cy="113.3" r="6.5"/>
<circle cx="1330.7" cy="113.6" r="6.5"/>
<circle cx="1341.1" cy="114.0" r="6.5"/>
<circle cx="1351.5" cy="114.5" r="6.5"/>
<circle cx="1361.9" cy="115.0" r="6.5"/>
<circle cx="1372.3" cy="115.5" r="6.5"/>
<circle cx="1382.7" cy="116.0" r="6.5"/>
<circle cx="1393.1" cy="116.5" r="6.5"/>
<circle cx="1403.5" cy="117.0" r="6.5"/>
<circle cx="1413.9" cy="117.5" r="6.5"/>
<circle cx="1424.3" cy="118.0" r="6.5"/>
<circle cx="1434.7" cy="118.5" r="6.5"/>
<circle cx="1455.5" cy="119.6" r="6.5"/>
<circle cx="1465.9" cy="120.1" r="6.5"/>
<circle cx="1476.3" cy="120.6" r="6.5"/>
<circle cx="1486.7" cy="121.2" r="6.5"/>
<circle cx="1497.1" cy="121.7" r="6.5"/>
<circle cx="1507.5" cy="122.2" r="6.5"/>
<circle cx="1517.9" cy="122.7" r="6.5"/>
<circle cx="1528.3" cy="123.3" r="6.5"/>
<circle cx="1538.7" cy="123.8" r="6.5"/>
<circle cx="1549.1" cy="124.4" r="6.5"/>
<text x="1486.45" y="407.4" font-size="39" textLength="23.01" lengthAdjust="spacingAndGlyphs" xml:space="preserve">T</text>
<text x="1524.89" y="407.4" font-size="39" textLength="25.24" lengthAdjust="spacingAndGlyphs" xml:space="preserve">=</text>
<text x="1409.68" y="482.3" font-size="39" textLength="56.34" lengthAdjust="spacingAndGlyphs" xml:space="preserve">pO</text>
<text x="1460.41" y="504.0" font-size="25" textLength="15.38" lengthAdjust="spacingAndGlyphs" xml:space="preserve">2</text>
<text x="1491.47" y="482.3" font-size="39" textLength="25.48" lengthAdjust="spacingAndGlyphs" xml:space="preserve">=</text>
<path d="M1544.52 482.30 L1541.08 482.30 L1541.08 462.72 L1534.50 462.72 L1534.50 460.27 Q1537.95 460.12 1539.67 458.80 Q1541.39 457.48 1542.06 454.81 L1544.52 454.81 Z" style="fill:#000;stroke:#000;stroke-width:0.8"/>
<path d="M1288.6 681.5 L1299.5 692.6 L1560 692.6 L1560 681.5 Z" style="fill:#000;stroke:none"/>
<path d="M1560 531 L1290 531 L1290 683" stroke-width="3.6" stroke-linejoin="miter"/>
<path d="M1560 529.2 L1288.2 529.2" stroke-width="1.2"/>
<circle cx="1368.2" cy="566.0" r="6.6"/>
<text x="1434.86" y="578.2" font-size="31" letter-spacing="0.9" xml:space="preserve">Experimental  data</text>
<line x1="1312.5" y1="606.7" x2="1423.7" y2="606.7" stroke-width="3.2"/>
<text x="1434.86" y="618.2" font-size="31" letter-spacing="0.9" xml:space="preserve">High  frequency</text>
<line x1="1312.5" y1="646.9" x2="1378.7" y2="646.9" stroke-width="3.2"/>
<line x1="1413.7" y1="646.9" x2="1423.7" y2="646.9" stroke-width="3.2"/>
<text x="1434.86" y="658.6" font-size="31" letter-spacing="0.9" xml:space="preserve">Low  frequency</text>
<line x1="1266.9" y1="737.8" x2="1377.5" y2="737.8" stroke-width="3.8"/>
<text x="1388.62" y="746.0" font-size="31" xml:space="preserve">y</text>
<text x="1413.39" y="746.0" font-size="31" textLength="19.23" lengthAdjust="spacingAndGlyphs" xml:space="preserve">=</text>
<text x="1442.12" y="746.0" font-size="31.5" letter-spacing="0.5" xml:space="preserve">9.0520 - </text>
<path d="M1577.87 746.00 L1575.08 746.00 L1575.08 730.18 L1569.77 730.18 L1569.77 728.21 Q1572.55 728.08 1573.94 727.02 Q1575.34 725.95 1575.87 723.79 L1577.87 723.79 Z" style="fill:#000;stroke:#000;stroke-width:0.8"/>
<text x="1583.98" y="746.0" font-size="31.5" letter-spacing="0.5" xml:space="preserve">.0</text>
<line x1="1256.4" y1="802.3" x2="1323.3" y2="802.3" stroke-width="3.4"/>
<line x1="1358.2" y1="802.3" x2="1368.2" y2="802.3" stroke-width="3.4"/>
<text x="1379.92" y="811.2" font-size="31" xml:space="preserve">y</text>
<text x="1404.89" y="811.2" font-size="31" textLength="19.23" lengthAdjust="spacingAndGlyphs" xml:space="preserve">=</text>
<text x="1434.18" y="811.2" font-size="31.5" textLength="96.55" lengthAdjust="spacingAndGlyphs" xml:space="preserve">4.8774</text>
<g transform="translate(1120.7 563.8) rotate(-90)">
<text x="-2.78" y="0.0" font-size="40" textLength="55.04" lengthAdjust="spacingAndGlyphs" xml:space="preserve">log</text>
</g>
<g transform="translate(1120.7 493.0) rotate(-90)">
<text x="-2.81" y="0.0" font-size="40" textLength="15.07" lengthAdjust="spacingAndGlyphs" xml:space="preserve">(</text>
</g>
<line x1="1091.8" y1="478.0" x2="1121.0" y2="478.0" stroke-width="2.8"/>
<g transform="translate(1120.7 470.9) rotate(-90)">
<text x="-1.33" y="0.0" font-size="40" textLength="25.53" lengthAdjust="spacingAndGlyphs" xml:space="preserve">Z</text>
</g>
<line x1="1091.8" y1="443.3" x2="1121.0" y2="443.3" stroke-width="2.8"/>
<g transform="translate(1120.7 433.4) rotate(-90)">
<text x="-4.21" y="0.0" font-size="40" textLength="13.02" lengthAdjust="spacingAndGlyphs" xml:space="preserve">;</text>
</g>
<g transform="translate(1120.7 408.7) rotate(-90)">
<text x="-1.67" y="0.0" font-size="40" textLength="90.85" lengthAdjust="spacingAndGlyphs" xml:space="preserve">ohm)</text>
</g>
<!-- panel c -->
<path d="M165.3 1077.3 L1003.4 1075.0 L1005.3 1892.6 L166.3 1895.3 Z" stroke-width="3.7" stroke-linejoin="miter"/>
<line x1="222.8" y1="1895.1" x2="222.8" y2="1883.6" stroke-width="3.2"/>
<line x1="220.7" y1="1077.1" x2="220.7" y2="1088.6" stroke-width="3.2"/>
<line x1="166.2" y1="1840.8" x2="177.7" y2="1840.8" stroke-width="3.2"/>
<line x1="1005.2" y1="1840.4" x2="993.7" y2="1840.4" stroke-width="3.2"/>
<line x1="278.5" y1="1894.9" x2="278.5" y2="1883.4" stroke-width="3.2"/>
<line x1="276.4" y1="1077.0" x2="276.4" y2="1088.5" stroke-width="3.2"/>
<line x1="166.2" y1="1786.4" x2="177.7" y2="1786.4" stroke-width="3.2"/>
<line x1="1005.1" y1="1785.8" x2="993.6" y2="1785.8" stroke-width="3.2"/>
<line x1="334.3" y1="1894.8" x2="334.3" y2="1873.8" stroke-width="3.2"/>
<line x1="332.1" y1="1076.8" x2="332.1" y2="1097.8" stroke-width="3.2"/>
<line x1="166.1" y1="1731.9" x2="187.1" y2="1731.9" stroke-width="3.2"/>
<line x1="1004.9" y1="1731.2" x2="983.9" y2="1731.2" stroke-width="3.2"/>
<line x1="390.1" y1="1894.6" x2="390.1" y2="1883.1" stroke-width="3.2"/>
<line x1="387.9" y1="1076.7" x2="387.9" y2="1088.2" stroke-width="3.2"/>
<line x1="166.0" y1="1677.5" x2="177.5" y2="1677.5" stroke-width="3.2"/>
<line x1="1004.8" y1="1676.6" x2="993.3" y2="1676.6" stroke-width="3.2"/>
<line x1="445.9" y1="1894.4" x2="445.9" y2="1882.9" stroke-width="3.2"/>
<line x1="443.6" y1="1076.5" x2="443.6" y2="1088.0" stroke-width="3.2"/>
<line x1="166.0" y1="1623.0" x2="177.5" y2="1623.0" stroke-width="3.2"/>
<line x1="1004.7" y1="1622.0" x2="993.2" y2="1622.0" stroke-width="3.2"/>
<line x1="501.6" y1="1894.2" x2="501.6" y2="1873.2" stroke-width="3.2"/>
<line x1="499.4" y1="1076.4" x2="499.4" y2="1097.4" stroke-width="3.2"/>
<line x1="165.9" y1="1568.6" x2="186.9" y2="1568.6" stroke-width="3.2"/>
<line x1="1004.5" y1="1567.4" x2="983.5" y2="1567.4" stroke-width="3.2"/>
<line x1="557.4" y1="1894.0" x2="557.4" y2="1882.5" stroke-width="3.2"/>
<line x1="555.1" y1="1076.2" x2="555.1" y2="1087.7" stroke-width="3.2"/>
<line x1="165.8" y1="1514.1" x2="177.3" y2="1514.1" stroke-width="3.2"/>
<line x1="1004.4" y1="1512.8" x2="992.9" y2="1512.8" stroke-width="3.2"/>
<line x1="613.2" y1="1893.9" x2="613.2" y2="1882.4" stroke-width="3.2"/>
<line x1="610.9" y1="1076.1" x2="610.9" y2="1087.6" stroke-width="3.2"/>
<line x1="165.8" y1="1459.7" x2="177.3" y2="1459.7" stroke-width="3.2"/>
<line x1="1004.3" y1="1458.2" x2="992.8" y2="1458.2" stroke-width="3.2"/>
<line x1="668.9" y1="1893.7" x2="668.9" y2="1872.7" stroke-width="3.2"/>
<line x1="666.6" y1="1075.9" x2="666.6" y2="1096.9" stroke-width="3.2"/>
<line x1="165.7" y1="1405.2" x2="186.7" y2="1405.2" stroke-width="3.2"/>
<line x1="1004.2" y1="1403.6" x2="983.2" y2="1403.6" stroke-width="3.2"/>
<line x1="724.7" y1="1893.5" x2="724.7" y2="1882.0" stroke-width="3.2"/>
<line x1="722.4" y1="1075.8" x2="722.4" y2="1087.3" stroke-width="3.2"/>
<line x1="165.6" y1="1350.8" x2="177.1" y2="1350.8" stroke-width="3.2"/>
<line x1="1004.0" y1="1349.0" x2="992.5" y2="1349.0" stroke-width="3.2"/>
<line x1="780.5" y1="1893.3" x2="780.5" y2="1881.8" stroke-width="3.2"/>
<line x1="778.1" y1="1075.6" x2="778.1" y2="1087.1" stroke-width="3.2"/>
<line x1="165.6" y1="1296.3" x2="177.1" y2="1296.3" stroke-width="3.2"/>
<line x1="1003.9" y1="1294.4" x2="992.4" y2="1294.4" stroke-width="3.2"/>
<line x1="836.2" y1="1893.1" x2="836.2" y2="1872.1" stroke-width="3.2"/>
<line x1="833.9" y1="1075.5" x2="833.9" y2="1096.5" stroke-width="3.2"/>
<line x1="165.5" y1="1241.9" x2="186.5" y2="1241.9" stroke-width="3.2"/>
<line x1="1003.8" y1="1239.8" x2="982.8" y2="1239.8" stroke-width="3.2"/>
<line x1="892.0" y1="1893.0" x2="892.0" y2="1881.5" stroke-width="3.2"/>
<line x1="889.6" y1="1075.3" x2="889.6" y2="1086.8" stroke-width="3.2"/>
<line x1="165.4" y1="1187.4" x2="176.9" y2="1187.4" stroke-width="3.2"/>
<line x1="1003.7" y1="1185.2" x2="992.2" y2="1185.2" stroke-width="3.2"/>
<line x1="947.8" y1="1892.8" x2="947.8" y2="1881.3" stroke-width="3.2"/>
<line x1="945.4" y1="1075.2" x2="945.4" y2="1086.7" stroke-width="3.2"/>
<line x1="165.4" y1="1133.0" x2="176.9" y2="1133.0" stroke-width="3.2"/>
<line x1="1003.5" y1="1130.6" x2="992.0" y2="1130.6" stroke-width="3.2"/>
<path d="M117.17 1096.20 L113.81 1096.20 L113.81 1077.12 L107.40 1077.12 L107.40 1074.74 Q110.76 1074.59 112.44 1073.30 Q114.11 1072.02 114.76 1069.41 L117.17 1069.41 Z" style="fill:#000;stroke:#000;stroke-width:0.8"/>
<text x="129.06" y="1096.2" font-size="38" letter-spacing="4.52" xml:space="preserve">5</text>
<path d="M117.17 1259.20 L113.81 1259.20 L113.81 1240.12 L107.40 1240.12 L107.40 1237.74 Q110.76 1237.59 112.44 1236.30 Q114.11 1235.02 114.76 1232.41 L117.17 1232.41 Z" style="fill:#000;stroke:#000;stroke-width:0.8"/>
<text x="130.08" y="1259.2" font-size="38" letter-spacing="5.53" xml:space="preserve">2</text>
<text x="125.58" y="1423.8" font-size="38" textLength="22.76" lengthAdjust="spacingAndGlyphs" xml:space="preserve">9</text>
<text x="125.31" y="1586.8" font-size="38" textLength="23.99" lengthAdjust="spacingAndGlyphs" xml:space="preserve">6</text>
<text x="125.93" y="1750.0" font-size="38" textLength="22.87" lengthAdjust="spacingAndGlyphs" xml:space="preserve">3</text>
<text x="125.87" y="1913.0" font-size="38" textLength="23.15" lengthAdjust="spacingAndGlyphs" xml:space="preserve">0</text>
<text x="156.68" y="1945.5" font-size="38" textLength="21.64" lengthAdjust="spacingAndGlyphs" xml:space="preserve">0</text>
<text x="324.59" y="1944.0" font-size="38" textLength="20.53" lengthAdjust="spacingAndGlyphs" xml:space="preserve">3</text>
<text x="489.48" y="1944.2" font-size="38" textLength="24.35" lengthAdjust="spacingAndGlyphs" xml:space="preserve">6</text>
<text x="657.79" y="1944.0" font-size="38" textLength="22.64" lengthAdjust="spacingAndGlyphs" xml:space="preserve">9</text>
<path d="M828.47 1943.00 L825.11 1943.00 L825.11 1923.92 L818.70 1923.92 L818.70 1921.54 Q822.06 1921.39 823.74 1920.10 Q825.41 1918.82 826.06 1916.21 L828.47 1916.21 Z" style="fill:#000;stroke:#000;stroke-width:0.8"/>
<text x="840.68" y="1943.0" font-size="38" letter-spacing="4.83" xml:space="preserve">2</text>
<path d="M996.97 1943.00 L993.61 1943.00 L993.61 1923.92 L987.20 1923.92 L987.20 1921.54 Q990.56 1921.39 992.24 1920.10 Q993.91 1918.82 994.56 1916.21 L996.97 1916.21 Z" style="fill:#000;stroke:#000;stroke-width:0.8"/>
<text x="1008.86" y="1943.0" font-size="38" letter-spacing="4.52" xml:space="preserve">5</text>
<text x="33.37" y="1093.5" font-size="41" font-weight="bold" style="stroke-width:0.3px" textLength="23.26" lengthAdjust="spacingAndGlyphs" xml:space="preserve">c</text>
<line x1="412.5" y1="1076.0" x2="243.4" y2="1894.0" stroke-width="3.2"/>
<circle cx="331.6" cy="1208.8" r="6.6"/>
<circle cx="345.3" cy="1363.6" r="6.6"/>
<circle cx="334.2" cy="1462.3" r="6.6"/>
<circle cx="318.5" cy="1541.8" r="6.6"/>
<circle cx="305.9" cy="1606.3" r="6.6"/>
<circle cx="294.2" cy="1659.1" r="6.6"/>
<circle cx="286.7" cy="1702.0" r="6.6"/>
<circle cx="279.8" cy="1736.4" r="6.6"/>
<circle cx="273.6" cy="1764.4" r="6.6"/>
<circle cx="268.5" cy="1788.1" r="6.6"/>
<circle cx="265.3" cy="1806.3" r="6.6"/>
<circle cx="261.1" cy="1821.3" r="6.6"/>
<circle cx="258.6" cy="1834.9" r="6.6"/>
<circle cx="255.6" cy="1846.0" r="6.6"/>
<circle cx="253.6" cy="1852.3" r="6.2"/>
<circle cx="252.9" cy="1855.2" r="6.2"/>
<circle cx="252.2" cy="1858.1" r="6.2"/>
<circle cx="251.4" cy="1861.0" r="6.2"/>
<circle cx="250.7" cy="1864.0" r="6.2"/>
<circle cx="250.0" cy="1866.9" r="6.2"/>
<circle cx="249.2" cy="1869.8" r="6.2"/>
<circle cx="248.5" cy="1872.7" r="6.2"/>
<circle cx="247.8" cy="1875.6" r="6.2"/>
<circle cx="247.1" cy="1878.5" r="6.2"/>
<circle cx="246.3" cy="1881.5" r="6.2"/>
<circle cx="245.6" cy="1884.4" r="6.2"/>
<circle cx="244.9" cy="1887.3" r="6.2"/>
<circle cx="242.9" cy="1892.0" r="8.4"/>
<circle cx="240.0" cy="1892.5" r="7.0"/>
<path d="M447.4 1220.5 L456.9 1230.0 L977.0 1230.0 L977.0 1152.5 L967.5 1143.0 L967.5 1220.5 Z" style="fill:#000;stroke:none"/>
<path d="M447.4 1143.0 L967.5 1143.0 L967.5 1220.5 L447.4 1220.5 Z" stroke-width="3.2" stroke-linejoin="miter"/>
<circle cx="525.6" cy="1182.0" r="6.8"/>
<text x="591.60" y="1196.8" font-size="39" letter-spacing="1.78" xml:space="preserve">Experimental</text>
<text x="866.56" y="1196.8" font-size="39" letter-spacing="1.58" xml:space="preserve">data</text>
<path d="M417.0 1335.0 L426.5 1344.5 L977.0 1344.5 L977.0 1267.0 L967.5 1257.5 L967.5 1335.0 Z" style="fill:#000;stroke:none"/>
<path d="M417.0 1257.5 L967.5 1257.5 L967.5 1335.0 L417.0 1335.0 Z" stroke-width="3.2" stroke-linejoin="miter"/>
<line x1="440.0" y1="1296.8" x2="550.6" y2="1296.8" stroke-width="2.6"/>
<text x="560.30" y="1311.0" font-size="39" letter-spacing="1.74" xml:space="preserve">Modeled</text>
<text x="744.74" y="1311.0" font-size="39" letter-spacing="1.62" xml:space="preserve">admittance</text>
<line x1="378.7" y1="1374.3" x2="488.0" y2="1374.3" stroke-width="2.4"/>
<text x="499.20" y="1383.0" font-size="30" font-family='"Liberation Serif", serif' style="stroke-width:0.9px" textLength="485.77" lengthAdjust="spacingAndGlyphs" xml:space="preserve">y = -6.90093 + 4.90828x R= 0.99986</text>
<path d="M622.7 1423.8 L828.0 1423.8 L828.0 1467.6 L622.7 1467.6 Z" stroke-width="3.1" stroke-linejoin="miter"/>
<text x="637.55" y="1455.8" font-size="37.5" textLength="172.80" lengthAdjust="spacingAndGlyphs" xml:space="preserve">T = 750°C</text>
<path d="M541.2 1520.6 L913.8 1520.6 L913.8 1595.5 L541.2 1595.5 Z" stroke-width="3.0" stroke-linejoin="miter"/>
<text x="560.86" y="1568.7" font-size="37" textLength="52.52" lengthAdjust="spacingAndGlyphs" xml:space="preserve">pO</text>
<text x="613.95" y="1584.8" font-size="24" textLength="13.79" lengthAdjust="spacingAndGlyphs" xml:space="preserve">2</text>
<text x="636.77" y="1568.7" font-size="37" textLength="24.28" lengthAdjust="spacingAndGlyphs" xml:space="preserve">=</text>
<path d="M683.74 1568.70 L680.35 1568.70 L680.35 1550.12 L673.90 1550.12 L673.90 1547.80 Q677.28 1547.66 678.97 1546.40 Q680.66 1545.15 681.31 1542.62 L683.74 1542.62 Z" style="fill:#000;stroke:#000;stroke-width:0.8"/>
<text x="691.17" y="1568.7" font-size="37" textLength="31.92" lengthAdjust="spacingAndGlyphs" xml:space="preserve">.6</text>
<text x="733.27" y="1568.7" font-size="37" textLength="19.04" lengthAdjust="spacingAndGlyphs" xml:space="preserve">x</text>
<path d="M776.82 1568.70 L773.61 1568.70 L773.61 1550.12 L767.50 1550.12 L767.50 1547.80 Q770.70 1547.66 772.30 1546.40 Q773.91 1545.15 774.52 1542.62 L776.82 1542.62 Z" style="fill:#000;stroke:#000;stroke-width:0.8"/>
<text x="783.85" y="1568.7" font-size="37" textLength="20.16" lengthAdjust="spacingAndGlyphs" xml:space="preserve">0</text>
<text x="805.39" y="1552.5" font-size="25" letter-spacing="-0.57" xml:space="preserve">-5</text>
<text x="837.39" y="1568.5" font-size="37" textLength="63.32" lengthAdjust="spacingAndGlyphs" xml:space="preserve">atm</text>
<text x="187.28" y="1219.8" font-size="32" textLength="99.03" lengthAdjust="spacingAndGlyphs" xml:space="preserve">2 MHz</text>
<path d="M188.5 1222.8 L287 1222.8" stroke-width="2.0"/>
<path d="M324.6 1207.8 L282 1192.3 L296 1207.3 L287 1222.6 Z" style="fill:#000;stroke:none"/>
<path d="M177.52 1441.60 L174.45 1441.60 L174.45 1425.78 L168.60 1425.78 L168.60 1423.81 Q171.67 1423.68 173.20 1422.62 Q174.73 1421.55 175.32 1419.39 L177.52 1419.39 Z" style="fill:#000;stroke:#000;stroke-width:0.8"/>
<text x="184.26" y="1441.6" font-size="31.5" textLength="48.25" lengthAdjust="spacingAndGlyphs" xml:space="preserve">.28</text>
<text x="246.83" y="1441.6" font-size="31.5" textLength="72.02" lengthAdjust="spacingAndGlyphs" xml:space="preserve">MHz</text>
<path d="M166 1445.4 L318.4 1445.4" stroke-width="2.0"/>
<path d="M243.5 1446.8 L300 1454.4 L300 1460 L243.5 1452.4 Z" style="fill:#000;stroke:none"/>
<path d="M325.9 1459.8 L284.7 1439.9 L298.4 1457.3 L278.4 1468.1 Z" style="fill:#000;stroke:none"/>
<path d="M336.48 1832.80 L333.50 1832.80 L333.50 1817.23 L327.80 1817.23 L327.80 1815.29 Q330.78 1815.17 332.28 1814.12 Q333.77 1813.07 334.35 1810.94 L336.48 1810.94 Z" style="fill:#000;stroke:#000;stroke-width:0.8"/>
<text x="343.04" y="1832.8" font-size="31" textLength="114.54" lengthAdjust="spacingAndGlyphs" xml:space="preserve">68  kHz</text>
<path d="M324.3 1836 L457.1 1836" stroke-width="2.4"/>
<path d="M322.3 1819.8 L300 1819.8" stroke-width="4.8"/>
<path d="M274.8 1819.8 L319.8 1805.4 L304.8 1819.8 L318.5 1836 Z" style="fill:#000;stroke:none"/>
<text x="469.66" y="2002.4" font-size="40" textLength="25.59" lengthAdjust="spacingAndGlyphs" xml:space="preserve">Y</text>
<text x="491.55" y="2022.3" font-size="25.5" textLength="46.41" lengthAdjust="spacingAndGlyphs" xml:space="preserve">real</text>
<text x="557.88" y="2002.6" font-size="40" textLength="13.53" lengthAdjust="spacingAndGlyphs" xml:space="preserve">(</text>
<path d="M586.11 2002.60 L582.52 2002.60 L582.52 1982.51 L575.67 1982.51 L575.67 1980.01 Q579.26 1979.85 581.05 1978.50 Q582.85 1977.14 583.54 1974.40 L586.11 1974.40 Z" style="fill:#000;stroke:#000;stroke-width:0.8"/>
<text x="594.00" y="2002.6" font-size="40" textLength="22.59" lengthAdjust="spacingAndGlyphs" xml:space="preserve">0</text>
<text x="617.17" y="1981.2" font-size="25.5" letter-spacing="2.93" xml:space="preserve">-5</text>
<text x="656.81" y="2002.6" font-size="40" textLength="39.32" lengthAdjust="spacingAndGlyphs" xml:space="preserve">S)</text>
<g transform="translate(63.9 1603.9) rotate(-90)">
<text x="-0.85" y="0.0" font-size="40" textLength="25.91" lengthAdjust="spacingAndGlyphs" xml:space="preserve">Y</text>
</g>
<g transform="translate(88.0 1583.0) rotate(-90)">
<text x="-1.78" y="0.0" font-size="25.5" textLength="57.59" lengthAdjust="spacingAndGlyphs" xml:space="preserve">imag</text>
</g>
<g transform="translate(63.9 1503.1) rotate(-90)">
<text x="-2.42" y="0.0" font-size="40" textLength="13.01" lengthAdjust="spacingAndGlyphs" xml:space="preserve">(</text>
<path d="M24.72 0.00 L21.27 0.00 L21.27 -20.09 L14.68 -20.09 L14.68 -22.59 Q18.14 -22.75 19.86 -24.10 Q21.59 -25.46 22.25 -28.20 L24.72 -28.20 Z" style="fill:#000;stroke:#000;stroke-width:0.8"/>
<text x="32.30" y="0.0" font-size="40" textLength="21.72" lengthAdjust="spacingAndGlyphs" xml:space="preserve">0</text>
</g>
<g transform="translate(41.5 1448.5) rotate(-90)">
<text x="-1.13" y="0.0" font-size="25.5" letter-spacing="2.03" xml:space="preserve">-5</text>
</g>
<g transform="translate(63.9 1408.4) rotate(-90)">
<text x="-1.80" y="0.0" font-size="40" textLength="39.55" lengthAdjust="spacingAndGlyphs" xml:space="preserve">S)</text>
</g>
<!-- caption -->
<text x="1086.90" y="1945.6" font-size="35" font-family='"Liberation Serif", serif' font-weight="bold" style="stroke-width:0.3px" textLength="57.65" lengthAdjust="spacingAndGlyphs" xml:space="preserve">Fig.</text>
<text x="1156.95" y="1945.6" font-size="35" font-family='"Liberation Serif", serif' font-weight="bold" style="stroke-width:0.3px" textLength="18.33" lengthAdjust="spacingAndGlyphs" xml:space="preserve">6</text>
<text x="1192.94" y="1945.6" font-size="35" font-family='"Liberation Serif", serif' font-weight="bold" style="stroke-width:0.3px" textLength="16.46" lengthAdjust="spacingAndGlyphs" xml:space="preserve">a</text>
<text x="1239.01" y="1945.6" font-size="35" font-family='"Liberation Serif", serif' style="stroke-width:0.3px" textLength="119.31" lengthAdjust="spacingAndGlyphs" xml:space="preserve">Nyquist</text>
<text x="1387.89" y="1945.6" font-size="35" font-family='"Liberation Serif", serif' style="stroke-width:0.3px" textLength="59.34" lengthAdjust="spacingAndGlyphs" xml:space="preserve">plot</text>
<text x="1476.06" y="1945.6" font-size="35" font-family='"Liberation Serif", serif' style="stroke-width:0.3px" textLength="64.95" lengthAdjust="spacingAndGlyphs" xml:space="preserve">obta</text>
<text x="1087.95" y="1983.6" font-size="35" font-family='"Liberation Serif", serif' font-style="italic" style="stroke-width:0.3px" textLength="16.66" lengthAdjust="spacingAndGlyphs" xml:space="preserve">p</text>
<text x="1104.11" y="1983.6" font-size="35" font-family='"Liberation Serif", serif' style="stroke-width:0.3px" textLength="29.78" lengthAdjust="spacingAndGlyphs" xml:space="preserve">O</text>
<text x="1131.43" y="1989.7" font-size="24" font-family='"Liberation Serif", serif' style="stroke-width:0.3px" textLength="13.35" lengthAdjust="spacingAndGlyphs" xml:space="preserve">2</text>
<text x="1149.56" y="1983.6" font-size="35" font-family='"Liberation Serif", serif' style="stroke-width:0.3px" textLength="26.54" lengthAdjust="spacingAndGlyphs" xml:space="preserve">=</text>
<text x="1181.80" y="1983.6" font-size="35" font-family='"Liberation Serif", serif' style="stroke-width:0.3px" textLength="41.18" lengthAdjust="spacingAndGlyphs" xml:space="preserve">1.6</text>
<path d="M1226.2 1968.3 L1243.2 1985.0 M1243.2 1968.3 L1226.2 1985.0" stroke-width="1.7"/>
<text x="1246.52" y="1983.6" font-size="35" font-family='"Liberation Serif", serif' style="stroke-width:0.3px" textLength="33.87" lengthAdjust="spacingAndGlyphs" xml:space="preserve">10</text>
<text x="1281.44" y="1967.1" font-size="24" font-family='"Liberation Serif", serif' style="stroke-width:0.3px" textLength="33.39" lengthAdjust="spacingAndGlyphs" xml:space="preserve">−5</text>
<text x="1326.64" y="1983.6" font-size="35" font-family='"Liberation Serif", serif' style="stroke-width:0.3px" textLength="67.50" lengthAdjust="spacingAndGlyphs" xml:space="preserve">atm.</text>
<text x="1407.23" y="1983.6" font-size="35" font-family='"Liberation Serif", serif' font-weight="bold" style="stroke-width:0.3px" textLength="16.03" lengthAdjust="spacingAndGlyphs" xml:space="preserve">b</text>
<text x="1434.23" y="1983.6" font-size="35" font-family='"Liberation Serif", serif' style="stroke-width:0.3px" textLength="78.05" lengthAdjust="spacingAndGlyphs" xml:space="preserve">Bode</text>
<text x="1522.94" y="1983.6" font-size="35" font-family='"Liberation Serif", serif' style="stroke-width:0.3px" xml:space="preserve">plot</text>
<text x="1086.28" y="2021.4" font-size="35" font-family='"Liberation Serif", serif' font-weight="bold" style="stroke-width:0.3px" textLength="15.80" lengthAdjust="spacingAndGlyphs" xml:space="preserve">c</text>
<text x="1114.93" y="2021.4" font-size="35" font-family='"Liberation Serif", serif' style="stroke-width:0.3px" textLength="177.19" lengthAdjust="spacingAndGlyphs" xml:space="preserve">Admittance</text>
<text x="1303.98" y="2021.4" font-size="35" font-family='"Liberation Serif", serif' style="stroke-width:0.3px" textLength="59.74" lengthAdjust="spacingAndGlyphs" xml:space="preserve">plot</text>
<text x="1376.03" y="2021.4" font-size="35" font-family='"Liberation Serif", serif' style="stroke-width:0.3px" textLength="34.37" lengthAdjust="spacingAndGlyphs" xml:space="preserve">of</text>
<text x="1420.93" y="2021.4" font-size="35" font-family='"Liberation Serif", serif' style="stroke-width:0.3px" textLength="46.18" lengthAdjust="spacingAndGlyphs" xml:space="preserve">the</text>
<text x="1478.18" y="2021.4" font-size="35" font-family='"Liberation Serif", serif' style="stroke-width:0.3px" textLength="60.85" lengthAdjust="spacingAndGlyphs" xml:space="preserve">imp</text>
</svg>
</body></html>
